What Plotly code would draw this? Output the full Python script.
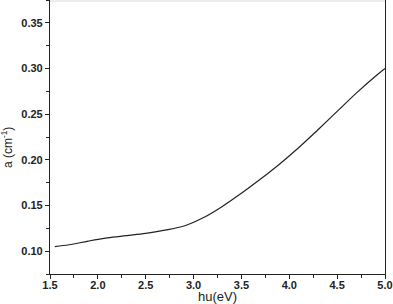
import plotly.graph_objects as go

energy_ev = [1.55, 1.7, 1.9, 2.1, 2.3, 2.5, 2.7, 2.9, 3.1, 3.3, 3.5, 3.7, 3.9, 4.1, 4.3, 4.5, 4.7, 4.9, 5.0]
alpha = [0.105, 0.107, 0.111, 0.1145, 0.117, 0.1195, 0.123, 0.1275, 0.1365, 0.149, 0.1635, 0.179, 0.1955, 0.2135, 0.233, 0.253, 0.273, 0.2915, 0.300]

x_ticks = [1.5, 2.0, 2.5, 3.0, 3.5, 4.0, 4.5, 5.0]
x_tick_labels = ["1.5", "2.0", "2.5", "3.0", "3.5", "4.0", "4.5", "5.0"]
y_ticks = [0.10, 0.15, 0.20, 0.25, 0.30, 0.35]
y_tick_labels = ["0.10", "0.15", "0.20", "0.25", "0.30", "0.35"]
x_title = "hu(eV)"
y_title = "a (cm<sup>-1</sup>)"

fig = go.Figure()
fig.add_trace(go.Scatter(x=energy_ev, y=alpha, mode="lines",
                         line=dict(color="#222222", width=1.2, shape="spline", smoothing=1),
                         showlegend=False))

fam = "Liberation Sans, Arial, sans-serif"
tickfont = dict(family=fam, size=11, color="#222222", weight="bold")
fig.update_layout(
    width=393, height=304,
    margin=dict(l=50, r=8, t=0, b=30),
    paper_bgcolor="white", plot_bgcolor="white",
    font=dict(family=fam, color="#222222"),
    xaxis=dict(range=[1.5, 5.0], tickvals=x_ticks, ticktext=x_tick_labels,
               tickfont=tickfont, ticklabelstandoff=-3,
               showgrid=False, zeroline=False, showline=True, linecolor="#222222", linewidth=1.2,
               ticks="outside", ticklen=4, tickcolor="#222222",
               minor=dict(ticks="outside", dtick=0.25, ticklen=3, tickcolor="#222222")),
    yaxis=dict(range=[0.075, 0.375], tickvals=y_ticks, ticktext=y_tick_labels,
               tickfont=tickfont,
               showgrid=False, zeroline=False, showline=True, linecolor="#222222", linewidth=1.2,
               mirror=True,
               ticks="outside", ticklen=4, tickcolor="#222222",
               minor=dict(ticks="outside", dtick=0.025, ticklen=3, tickcolor="#222222")),
    annotations=[
        dict(text=x_title, xref="paper", yref="paper", x=0.5, y=-0.082, xanchor="center", yanchor="middle",
             showarrow=False, font=dict(family=fam, size=13, color="#222222")),
        dict(text=y_title, xref="paper", yref="paper", x=-0.128, y=0.46, xanchor="center", yanchor="middle",
             textangle=-90, showarrow=False, font=dict(family=fam, size=12, color="#222222")),
    ],
    shapes=[dict(type="rect", xref="paper", yref="paper", x0=0, x1=1, y0=0.993, y1=1,
                 fillcolor="#ececec", line=dict(width=0), layer="below")],
)

fig.write_html("out.html")
